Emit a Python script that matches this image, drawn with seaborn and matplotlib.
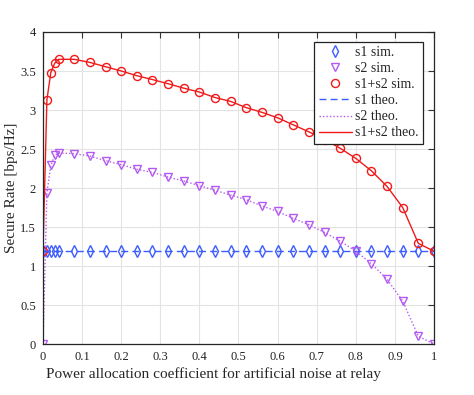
import matplotlib
matplotlib.use('Agg')
import matplotlib.pyplot as plt
import seaborn as sns

sns.set_style('whitegrid')
plt.rcParams['font.family'] = ['Liberation Serif', 'DejaVu Serif']

# power allocation coefficient
x = [0, 0.01, 0.02, 0.03, 0.04, 0.08, 0.12, 0.16, 0.20, 0.24, 0.28, 0.32,
     0.36, 0.40, 0.44, 0.48, 0.52, 0.56, 0.60, 0.64, 0.68, 0.72, 0.76, 0.80,
     0.84, 0.88, 0.92, 0.96, 1.0]

s1 = [1.19] * len(x)

s2 = [0.0, 1.94, 2.29, 2.42, 2.45, 2.44, 2.41, 2.35, 2.30, 2.24, 2.20, 2.14,
      2.09, 2.03, 1.97, 1.91, 1.85, 1.77, 1.70, 1.61, 1.53, 1.43, 1.32, 1.19,
      1.03, 0.83, 0.55, 0.10, 0.0]

s12 = [1.19, 3.13, 3.48, 3.60, 3.65, 3.65, 3.61, 3.555, 3.50, 3.44, 3.39, 3.337,
       3.28, 3.23, 3.16, 3.11, 3.03, 2.97, 2.90, 2.81, 2.72, 2.62, 2.51, 2.38,
       2.22, 2.02, 1.75, 1.29, 1.19]

c_blue = '#3c5cff'
c_purple = '#b45af2'
c_red = '#f01a1a'

fig = plt.figure(figsize=(4.74, 3.95), dpi=100)
ax = fig.add_axes([0.0907, 0.129, 0.8249, 0.790])

# simulation markers
sns.lineplot(x=x, y=s1, ax=ax, linestyle='', marker='d', markersize=5.8,
             markerfacecolor='none', markeredgecolor=c_blue, markeredgewidth=1.0,
             color=c_blue, label='s1 sim.')
sns.lineplot(x=x, y=s2, ax=ax, linestyle='', marker='v', markersize=5.8,
             markerfacecolor='none', markeredgecolor=c_purple, markeredgewidth=1.0,
             color=c_purple, label='s2 sim.')
sns.lineplot(x=x, y=s12, ax=ax, linestyle='', marker='o', markersize=5.8,
             markerfacecolor='none', markeredgecolor=c_red, markeredgewidth=1.0,
             color=c_red, label='s1+s2 sim.')

# theoretical curves
sns.lineplot(x=x, y=s1, ax=ax, color=c_blue, linewidth=1.0, linestyle=(0, (5, 3)),
             label='s1 theo.')
sns.lineplot(x=x, y=s2, ax=ax, color=c_purple, linewidth=1.0, linestyle=(0, (1, 1.5)),
             label='s2 theo.')
sns.lineplot(x=x, y=s12, ax=ax, color=c_red, linewidth=1.0, linestyle='-',
             label='s1+s2 theo.')

ax.set_xlim(0, 1)
ax.set_ylim(0, 4)
ax.set_xticks([i / 10 for i in range(11)])
ax.set_xticklabels(['0', '0.1', '0.2', '0.3', '0.4', '0.5', '0.6', '0.7', '0.8', '0.9', '1'])
ax.set_yticks([i / 2 for i in range(9)])
ax.set_yticklabels(['0', '0.5', '1', '1.5', '2', '2.5', '3', '3.5', '4'])
ax.tick_params(direction='in', length=4, width=0.8, top=True, right=True,
               labelsize=9, colors='#333333', pad=5)
ax.tick_params(axis='both', labelcolor='#222222')
ax.grid(True, color='#e3e3e3', linewidth=0.8)
for s in ax.spines.values():
    s.set_color('#262626')
    s.set_linewidth(0.9)

ax.set_xlabel('Power allocation coefficient for artificial noise at relay', fontsize=11)
ax.set_ylabel('Secure Rate [bps/Hz]', fontsize=11)
ax.xaxis.set_label_coords(0.437, -0.075)
ax.yaxis.set_label_coords(-0.063, 0.5)

leg = ax.legend(loc='upper right', bbox_to_anchor=(0.972, 0.968), fontsize=10,
                frameon=True, fancybox=False, edgecolor='#222222', framealpha=1,
                handlelength=2.4, borderpad=0.3, labelspacing=0.22, handletextpad=0.25,
                borderaxespad=0)
leg.get_frame().set_linewidth(0.9)

fig.savefig('out.png', dpi=100)
